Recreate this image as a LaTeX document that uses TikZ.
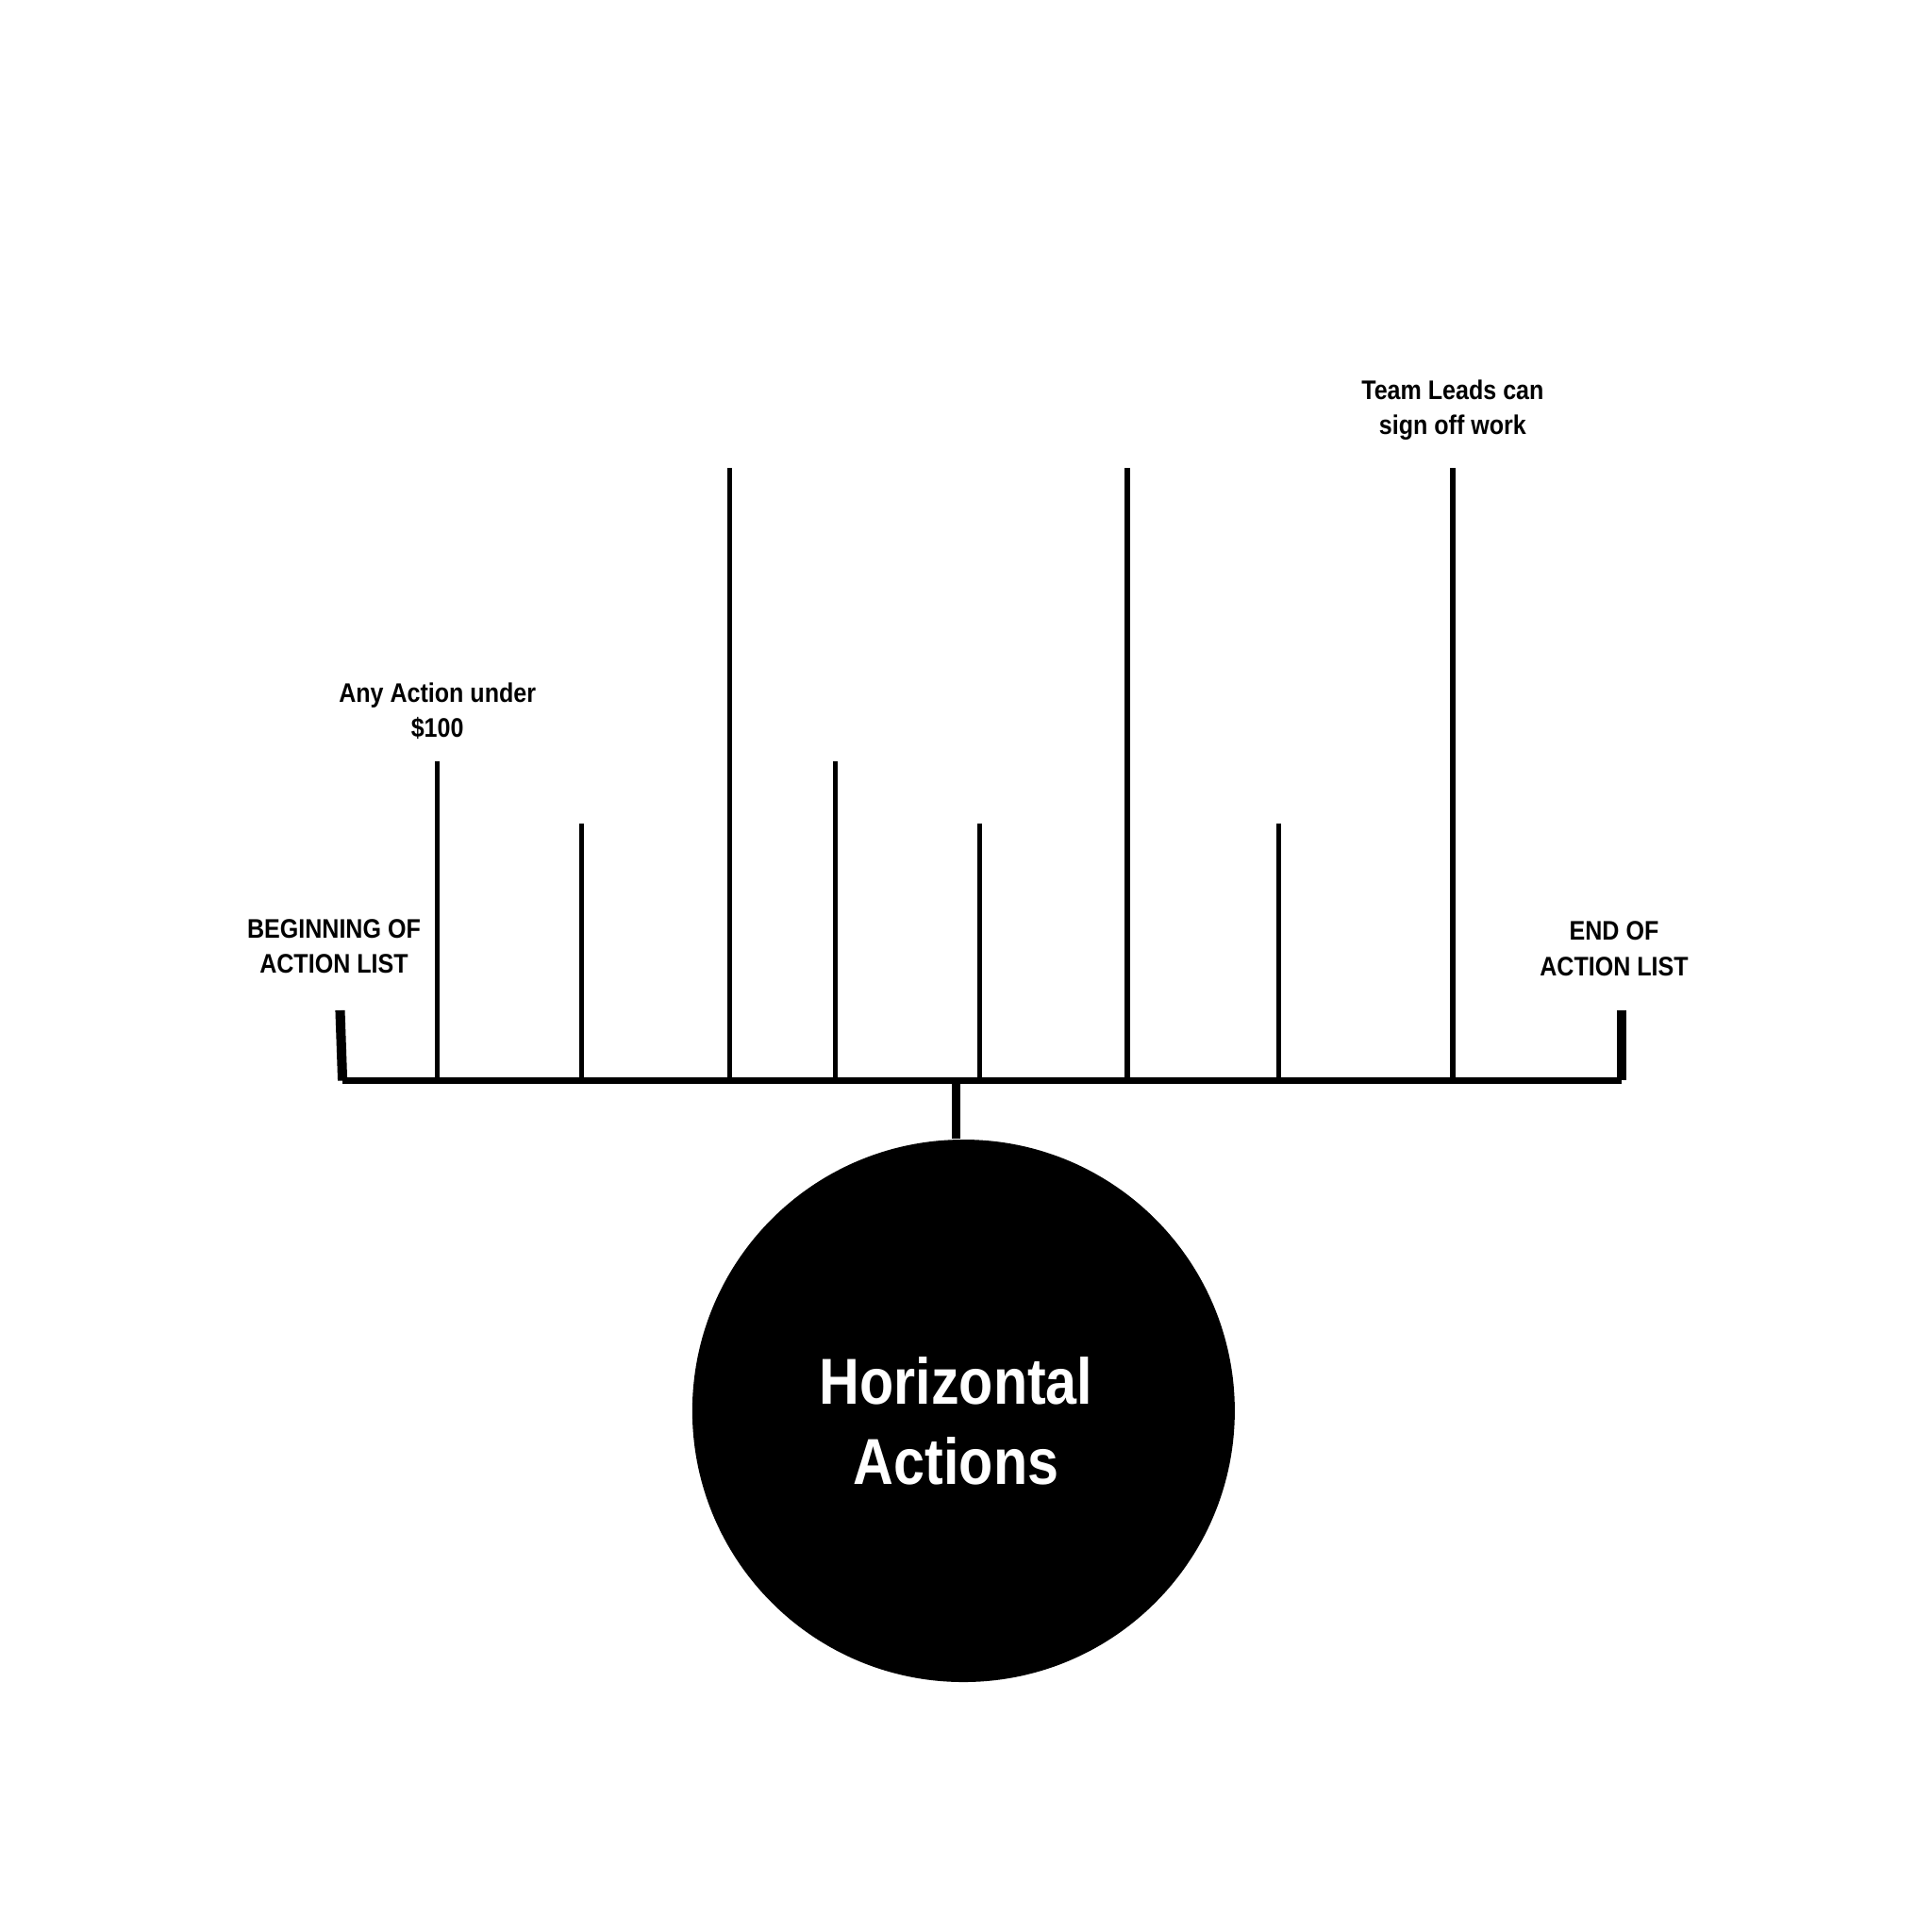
\documentclass[tikz,border=0pt]{standalone}
\usepackage{fontspec}
\setmainfont{Liberation Sans}
\newfontfamily\tagfont[FakeStretch=0.88]{Liberation Sans}
\newfontfamily\hubfont[FakeStretch=0.86]{Liberation Sans}
\usetikzlibrary{positioning,calc}

\begin{document}
\begin{tikzpicture}[
  x=0.01cm, y=-0.01cm,
  tick/.style={line width=1.15pt, black},
  bar/.style={line width=1.7pt, black},
  bracket/.style={line width=2.2pt, black},
  tag/.style={font=\tagfont\fontsize{6.2}{8.1}\selectfont\bfseries, align=center, inner sep=0pt},
  hub/.style={circle, fill=black, minimum size=4.4cm, inner sep=0pt},
  hubtext/.style={font=\hubfont\fontsize{15}{18.5}\selectfont\bfseries, text=white, align=center, inner sep=0pt}
]
\useasboundingbox (0,0) rectangle (1568,1568);

% Main bar with end brackets
\coordinate (barl) at (278,877);
\coordinate (barr) at (1316,877);
\coordinate (brl) at (276,820);
\coordinate (brr) at (1316,820);
\draw[bar] (barl) -- (barr);
\draw[bracket] (brl) -- (barl);
\draw[bracket] (brr) -- (barr);

% Action ticks
\foreach \x/\top [count=\i] in {355/618, 472/668, 592/380, 678/618, 795/668, 915/380, 1038/668, 1179/380} {
  \coordinate (b\i) at (\x,877);
  \coordinate (t\i) at (\x,\top);
  \draw[tick] (b\i) -- (t\i);
}

% Circle hanging from the bar
\node[hub] (hub) at (782,1145) {};
\node[hubtext] (hubtxt) at ($(hub.center)+(-6,8)$) {Horizontal\\Actions};
\coordinate (mid) at (776,877);
\draw[line width=1.8pt] (mid) -- (mid |- hub.north);

% Labels
\node[tag] (lbegin) at (271,768) {BEGINNING OF\\ACTION LIST};
\node[tag] (lend) at (1310,770) {END OF\\ACTION LIST};
\node[tag] (lany) at (355,577) {Any Action under\\\$100};
\node[tag] (lteam) at (1179,333) {Team Leads can\\sign off work};
\end{tikzpicture}
\end{document}
